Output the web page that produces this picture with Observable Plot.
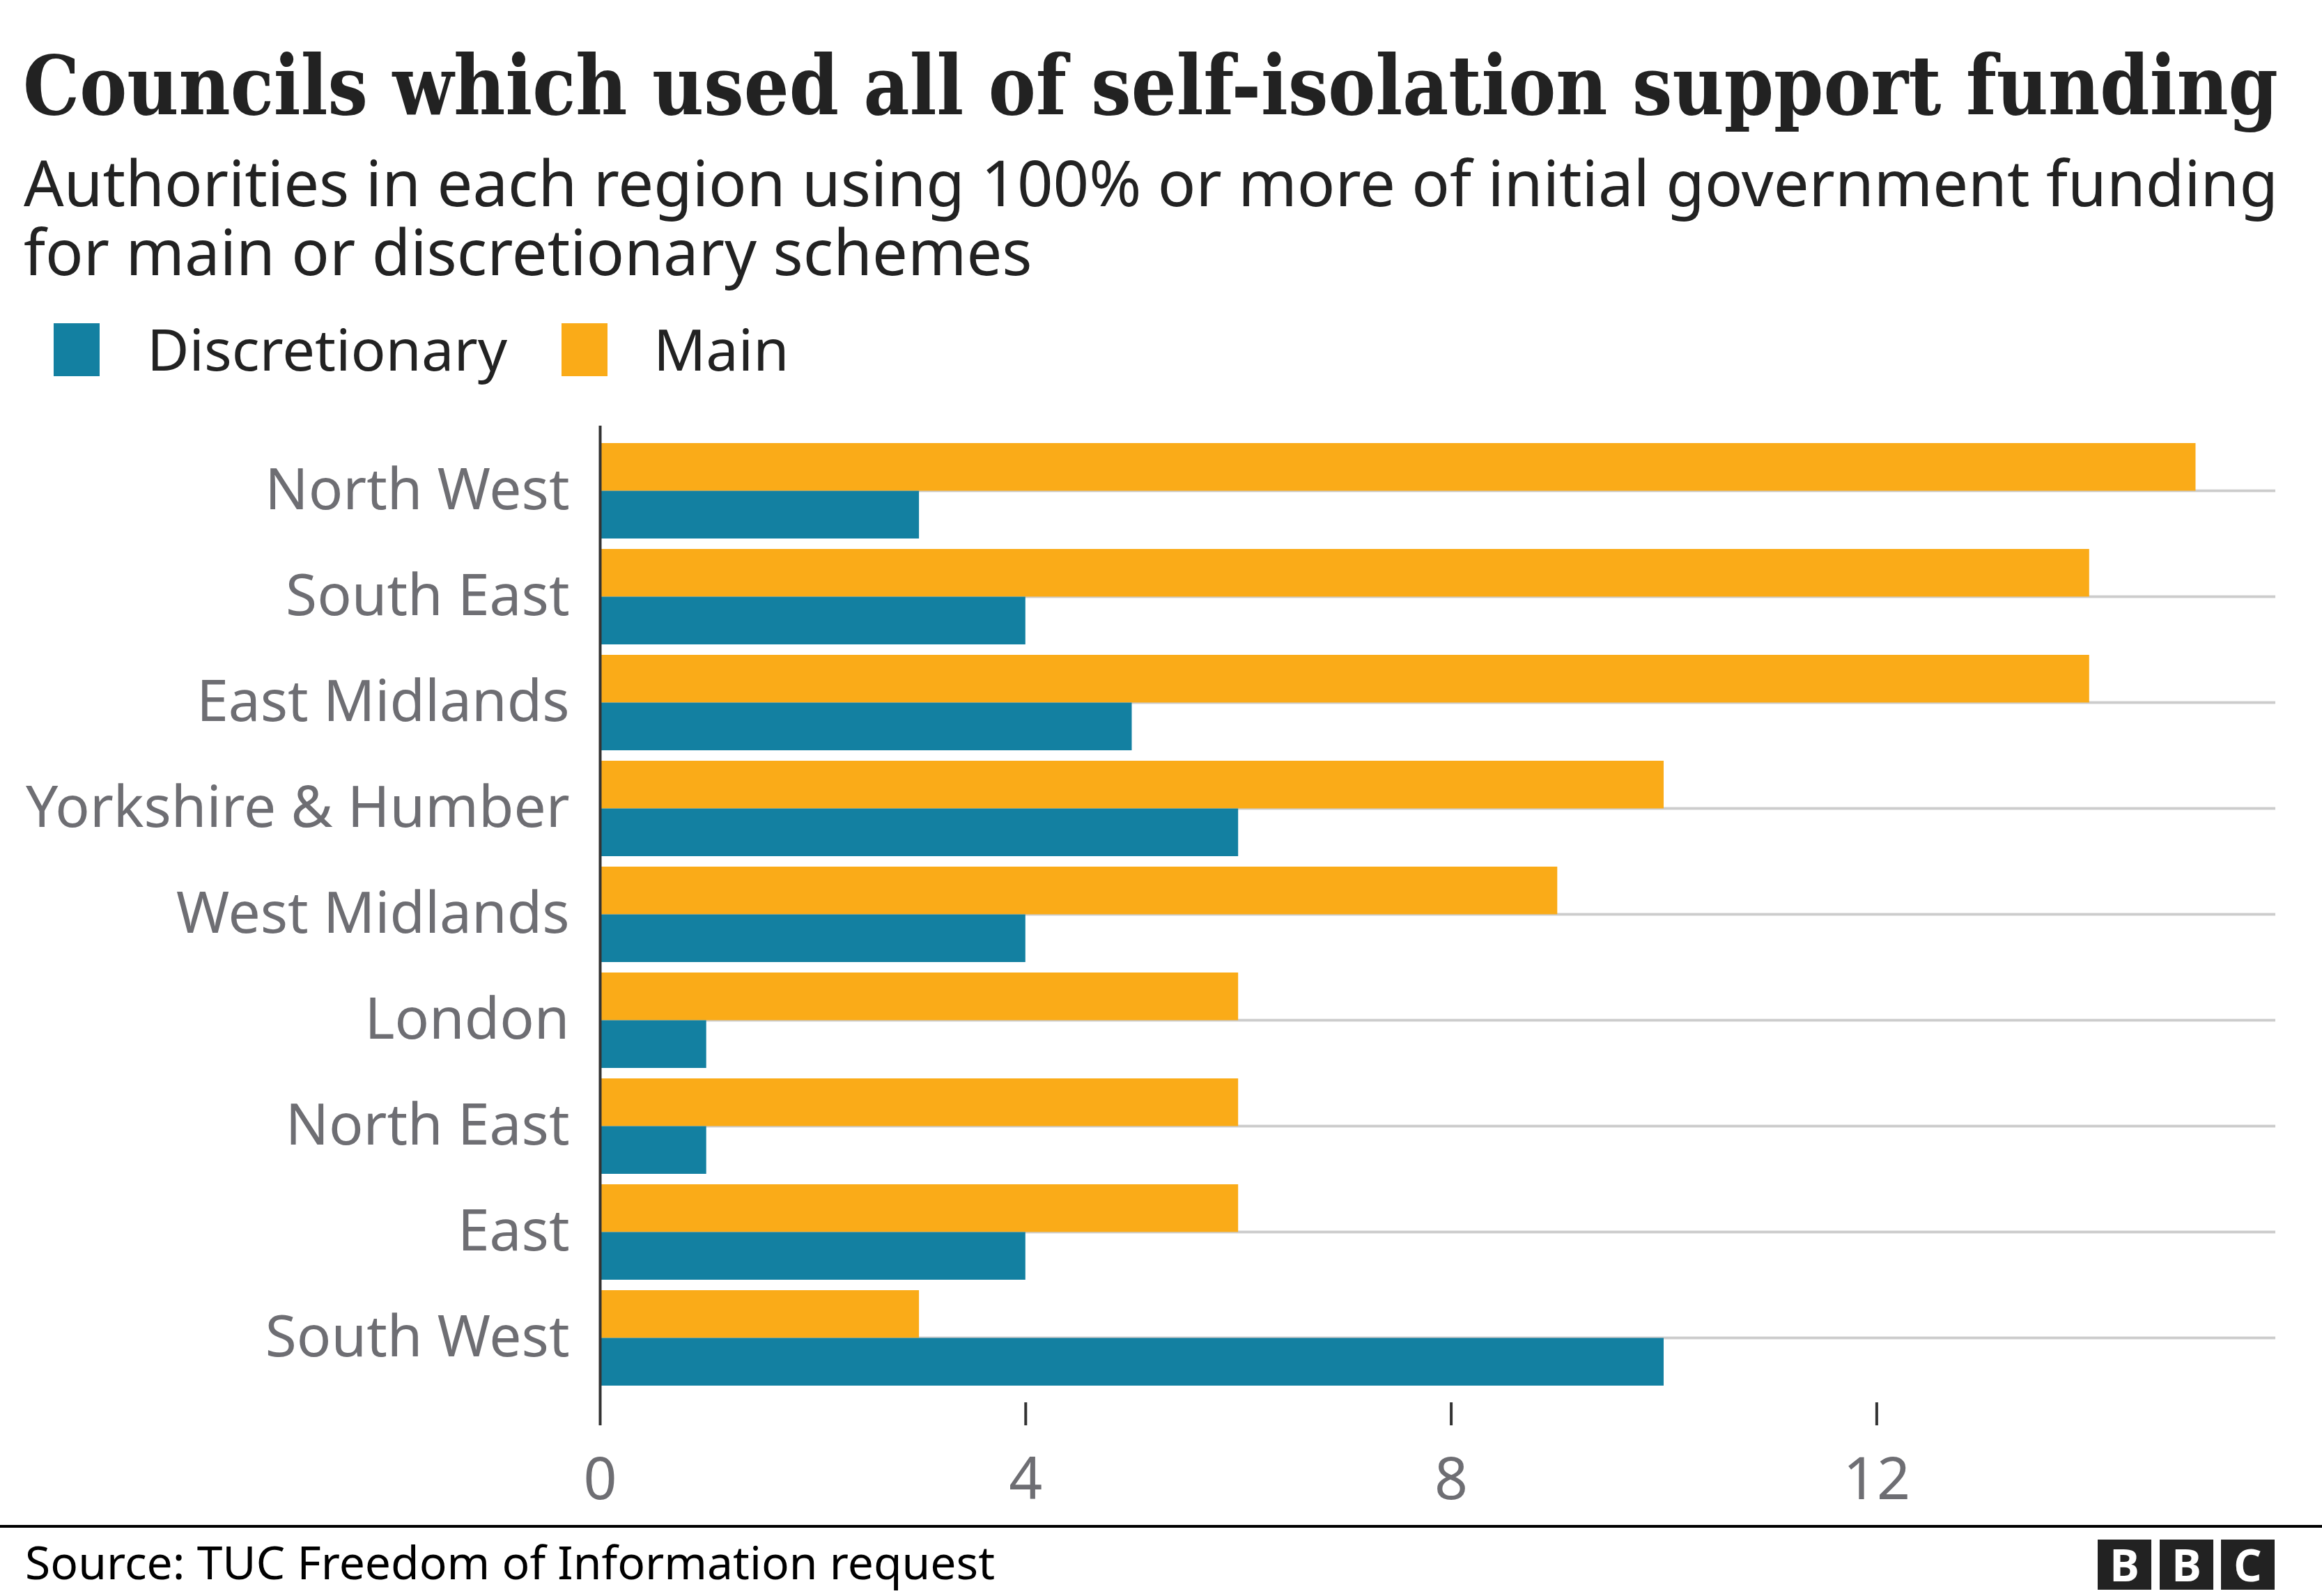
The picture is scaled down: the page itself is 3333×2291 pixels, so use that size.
<!DOCTYPE html>
<html><head><meta charset="utf-8">
<script src="https://cdn.jsdelivr.net/npm/d3@7"></script>
<script src="https://cdn.jsdelivr.net/npm/@observablehq/plot@0.6"></script>
<style>
html,body{margin:0;padding:0;background:#fff;}
#page{position:relative;width:3333px;height:2291px;overflow:hidden;font-family:"Noto Sans",sans-serif;}
.abs{position:absolute;white-space:nowrap;}
#title{left:33px;top:65px;font-family:"DejaVu Serif",serif;font-weight:bold;font-size:117px;line-height:1;color:#222;display:inline-block;}
#subtitle{left:34px;top:211px;font-size:92px;line-height:99px;color:#222;display:inline-block;}
.leg-sw{position:absolute;top:464px;width:66px;height:76px;}
.leg-tx{position:absolute;top:458px;font-size:83px;line-height:1;color:#222;white-space:nowrap;}
#rule{position:absolute;left:0;top:2189px;width:3333px;height:4px;background:#000;}
#source{left:36px;top:2208px;font-size:66px;line-height:1;color:#000;}
.bbc{position:absolute;top:2210px;width:77px;height:72px;background:#222;color:#fff;font-family:"Open Sans",sans-serif;font-weight:bold;font-size:64px;line-height:72px;text-align:center;}
</style></head><body><div id="page"></div>
<script>
const regions = ["North West","South East","East Midlands","Yorkshire & Humber","West Midlands","London","North East","East","South West"];
const mainValues = [15,14,14,10,9,6,6,6,3];
const discretionaryValues = [3,4,5,6,4,1,1,4,10];
const seriesNames = ["Discretionary","Main"];
const seriesColors = ["#1380A1","#FAAB18"];
const xTicks = [0,4,8,12];
const xMax = 15.75;
const titleText = "Councils which used all of self-isolation support funding";
const subtitleLines = ["Authorities in each region using 100% or more of initial government funding","for main or discretionary schemes"];
const sourceText = "Source: TUC Freedom of Information request";

const page = document.getElementById("page");
function add(tag, cls, id, text){const e=document.createElement(tag); if(cls) e.className=cls; if(id) e.id=id; if(text!=null) e.textContent=text; page.appendChild(e); return e;}

const title = add("div","abs","title",titleText);
const subtitle = add("div","abs","subtitle");
const subNode1 = document.createTextNode(subtitleLines[0]);
subtitle.appendChild(subNode1);
subtitle.appendChild(document.createElement("br"));
subtitle.appendChild(document.createTextNode(subtitleLines[1]));

// legend
const legSw = [77, 806], legTx = [211, 938];
seriesNames.forEach((n,i)=>{
  const s = add("div","leg-sw"); s.style.left=legSw[i]+"px"; s.style.background=seriesColors[i];
  const t = add("div","leg-tx",null,n); t.style.left=legTx[i]+"px";
});

// chart
const data = regions.map((r,i)=>({region:r, main:mainValues[i], disc:discretionaryValues[i]}));
const W=3333, H=1620, mt=51, mb=167, ml=861, mr=67;
const pi=0.1, po=0.15;
const step=(H-mt-mb)/(regions.length - pi + 2*po);
const bw=step*(1-pi);

const chart = Plot.plot({
  width: W, height: H,
  marginTop: mt, marginBottom: mb, marginLeft: ml, marginRight: mr,
  style: {fontFamily: "Noto Sans", background: "transparent", overflow: "visible"},
  x: {domain: [0, xMax]},
  y: {domain: regions, paddingInner: pi, paddingOuter: po, align: 0.5},
  marks: [
    Plot.barX(regions, {y: d=>d, x1: ()=>0, x2: ()=>xMax, fill: "#cccccc", insetTop: bw/2-2, insetBottom: bw/2-2}),
    Plot.barX(data, {y: "region", x: "main", fill: seriesColors[1], insetBottom: bw/2}),
    Plot.barX(data, {y: "region", x: "disc", fill: seriesColors[0], insetTop: bw/2}),
    Plot.ruleX([0], {stroke: "#333", strokeWidth: 4}),
    Plot.axisY({tickSize: 0, tickPadding: 44, fontSize: 82, color: "#6e6e73", label: null}),
    Plot.axisX({ticks: xTicks, tickSize: 33, tickPadding: 46, fontSize: 84, color: "#6e6e73", stroke: "#333", strokeWidth: 4, label: null, tickFormat: d=>String(d)})
  ]
});
chart.style.position="absolute"; chart.style.left="0px"; chart.style.top="560px";
page.appendChild(chart);

// footer
add("div",null,"rule");
add("div","abs","source",sourceText);
["B","B","C"].forEach((c,i)=>{const b=add("div","bbc",null,c); b.style.left=[3011,3100,3188][i]+"px";});

function fitAll(){
  title.style.transform="none";
  const tw=title.getBoundingClientRect().width;
  title.style.transformOrigin="0 0"; title.style.transform=`scaleX(${3237/tw})`;
  subtitle.style.transform="none";
  const r=document.createRange(); r.selectNodeContents(subNode1);
  const sw=r.getBoundingClientRect().width;
  subtitle.style.transformOrigin="0 0"; subtitle.style.transform=`scaleX(${3236/sw})`;
}
fitAll();
if(document.fonts && document.fonts.ready) document.fonts.ready.then(fitAll);
</script></body></html>
